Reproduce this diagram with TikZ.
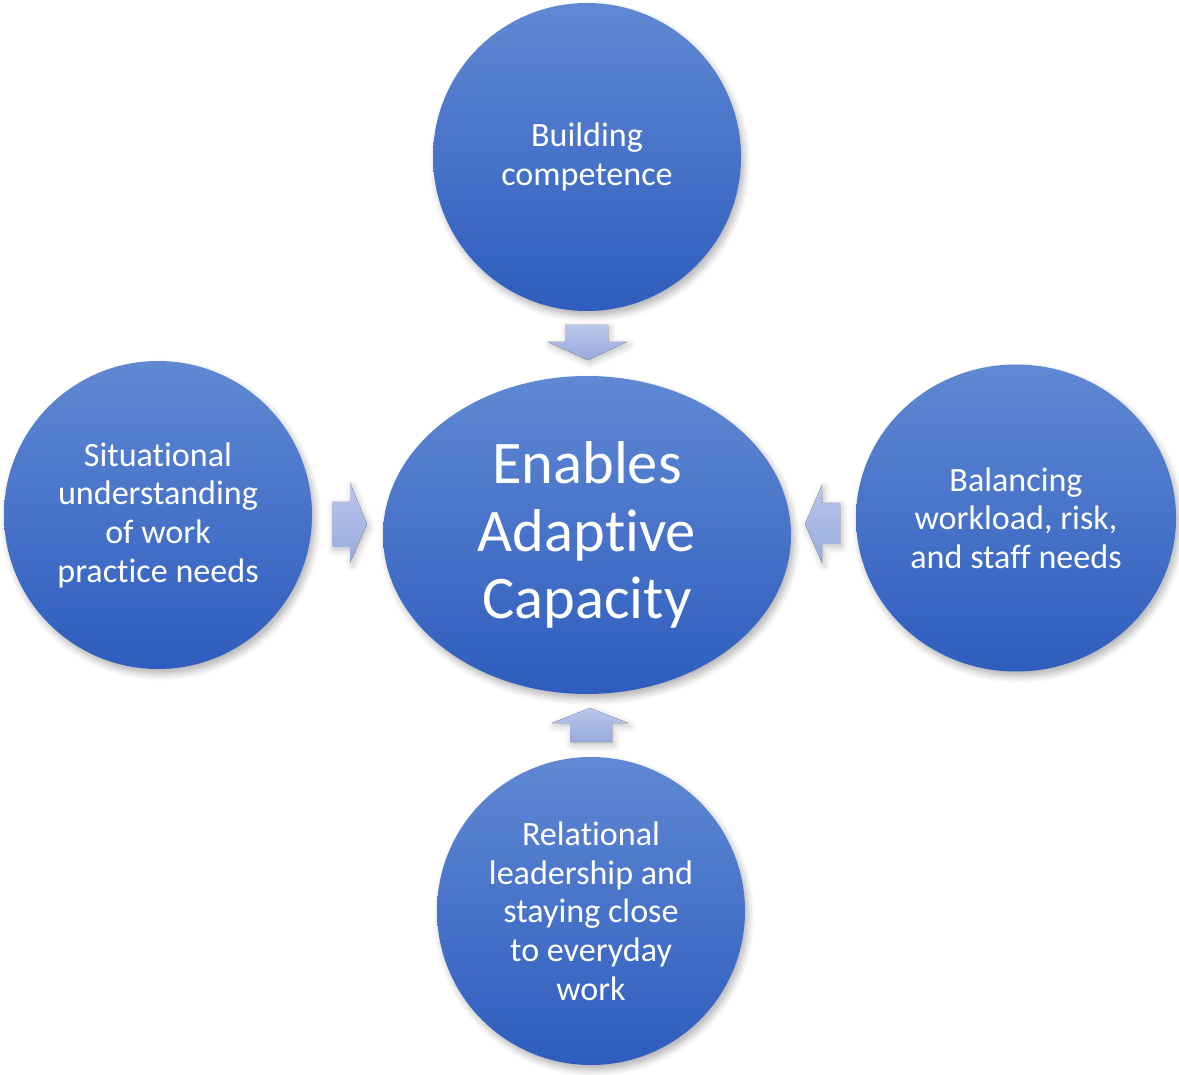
\documentclass[tikz,border=0pt]{standalone}
\usepackage{fontspec}
\setmainfont{Carlito}[Ligatures=NoCommon]
\usetikzlibrary{shapes.geometric,shadows.blur}

\definecolor{bluetop}{HTML}{6088D3}
\definecolor{bluebot}{HTML}{2E5DBE}
\definecolor{arrowtop}{HTML}{BAC7EC}
\definecolor{arrowbot}{HTML}{98AADC}

\tikzset{
    bubble/.style={circle, minimum size=3.08cm, inner sep=0pt,
        top color=bluetop, bottom color=bluebot, text=white, align=center,
        font=\fontsize{9.7}{11}\selectfont,
        blur shadow={shadow xshift=0.03cm, shadow yshift=-0.05cm,
            shadow opacity=30, shadow blur steps=6}},
    blockarrow/.style={top color=arrowtop, bottom color=arrowbot,
        blur shadow={shadow xshift=0.02cm, shadow yshift=-0.03cm,
            shadow opacity=25, shadow blur steps=4}}
}

\begin{document}
\begin{tikzpicture}
            \useasboundingbox (0, 0) rectangle (11.79, 10.74);

            % outer factors
            \node[bubble] (comp) at (5.87, 9.17) {Building\\competence};
            \node[bubble] (situ) at (1.58, 5.59) {Situational\\understanding\\of work\\practice needs};
            \node[bubble, ellipse, minimum width=3.2cm, minimum height=3.07cm] (bal) at (10.16, 5.56)
                {Balancing\\workload, risk,\\and staff needs};
            \node[bubble] (rel) at (5.91, 1.63) {Relational\\leadership and\\staying close\\to everyday\\work};

            % middle
            \node[bubble, ellipse, minimum width=4.08cm, minimum height=3.18cm,
                font=\fontsize{17.2}{19.2}\selectfont] (cap) at (5.87, 5.39) {Enables\\Adaptive\\Capacity};

            % arrows into the middle
            \fill[blockarrow] (5.65, 7.49) -- (6.08, 7.49) -- (6.08, 7.32) -- (6.27, 7.32)
                -- (5.875, 7.14) -- (5.48, 7.32) -- (5.65, 7.32) -- cycle;
            \fill[blockarrow] (5.70, 3.32) -- (6.12, 3.32) -- (6.12, 3.51) -- (6.28, 3.51)
                -- (5.90, 3.66) -- (5.52, 3.51) -- (5.70, 3.51) -- cycle;
            \fill[blockarrow] (3.32, 5.72) -- (3.50, 5.72) -- (3.50, 5.91) -- (3.67, 5.50)
                -- (3.50, 5.11) -- (3.50, 5.27) -- (3.32, 5.27) -- cycle;
            \fill[blockarrow] (8.40, 5.71) -- (8.22, 5.71) -- (8.22, 5.89) -- (8.05, 5.50)
                -- (8.22, 5.11) -- (8.22, 5.30) -- (8.40, 5.30) -- cycle;
        \end{tikzpicture}
\end{document}
